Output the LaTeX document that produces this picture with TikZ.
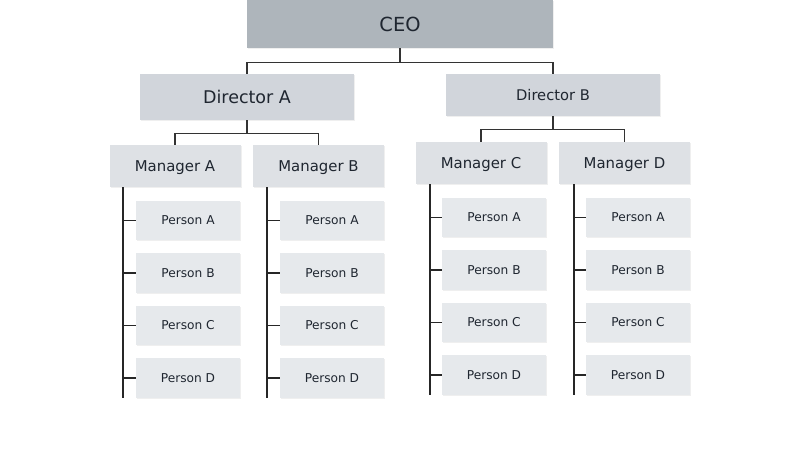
\documentclass[tikz,border=0pt]{standalone}
\usepackage{fontspec}
\setmainfont{DejaVu Sans}
\usetikzlibrary{shadows}
\definecolor{ceofill}{HTML}{AEB5BB}
\definecolor{dirfill}{HTML}{D1D5DB}
\definecolor{mgrfill}{HTML}{DEE1E5}
\definecolor{perfill}{HTML}{E6E9EC}
\definecolor{txt}{HTML}{1F2630}
\definecolor{lnc}{HTML}{333333}
\tikzset{
  box/.style={draw=none, inner sep=0pt, text=txt, text depth=0pt, drop shadow={shadow xshift=1pt, shadow yshift=-1pt, opacity=0.12}},
  ceobox/.style={box, fill=ceofill, minimum width=306pt, minimum height=48pt, text height=14.2pt, font=\fontsize{19.4}{23}\selectfont},
  dirbox/.style={box, fill=dirfill, minimum width=214pt},
  mgrbox/.style={box, fill=mgrfill, minimum width=131pt, minimum height=42pt, text height=10.9pt, font=\fontsize{14.9}{18}\selectfont},
  perbox/.style={box, fill=perfill, minimum width=104pt, minimum height=39.5pt, text height=8.9pt, font=\fontsize{12.2}{15}\selectfont},
  conn/.style={draw=lnc, line width=1.4pt},
  pconn/.style={draw=black!85, line width=1.4pt},
}
\begin{document}
\begin{tikzpicture}[x=1pt,y=1pt]
\useasboundingbox (0,0) rectangle (800,-450);
\fill[white] (0,0) rectangle (800,-450);
\node[ceobox] (ceo) at (400,-24) {CEO};
\node[dirbox, minimum height=46pt, text height=12.8pt, font=\fontsize{17.5}{21}\selectfont] (da) at (247,-97) {Director A};
\node[dirbox, minimum height=42pt, text height=10.7pt, font=\fontsize{14.7}{18}\selectfont] (db) at (553,-95) {Director B};
\node[mgrbox] (ma) at (175,-166) {Manager A};
\node[mgrbox] (mb) at (318.5,-166) {Manager B};
\node[mgrbox] (mc) at (481,-163) {Manager C};
\node[mgrbox] (md) at (624.5,-163) {Manager D};
% persons
\foreach \m/\x/\y in {a/188/-220.5, b/332/-220.5, c/494/-217.5, d/638/-217.5}{
  \node[perbox] (\m1) at (\x,\y) {Person A};
  \node[perbox] (\m2) at (\x,\y-52.5) {Person B};
  \node[perbox] (\m3) at (\x,\y-105) {Person C};
  \node[perbox] (\m4) at (\x,\y-157.5) {Person D};
}
% connectors
\draw[conn] (ceo.south) -- ++(0,-14) -| (da.north);
\draw[conn] (ceo.south) -- ++(0,-14) -| (db.north);
\draw[conn] (da.south) -- ++(0,-13) -| (ma.north);
\draw[conn] (da.south) -- ++(0,-13) -| (mb.north);
\draw[conn] (db.south) -- ++(0,-13) -| (mc.north);
\draw[conn] (db.south) -- ++(0,-13) -| (md.north);
% person trunks
\foreach \m/\mg/\lx in {a/ma/123, b/mb/267, c/mc/430, d/md/574}{
  \draw[pconn] (\lx,0 |- \mg.south) -- (\lx,0 |- \m4.south);
  \foreach \i in {1,2,3,4}{
    \draw[pconn] (\lx,0 |- \m\i.west) -- (\m\i.west);
  }
}
\end{tikzpicture}
\end{document}
